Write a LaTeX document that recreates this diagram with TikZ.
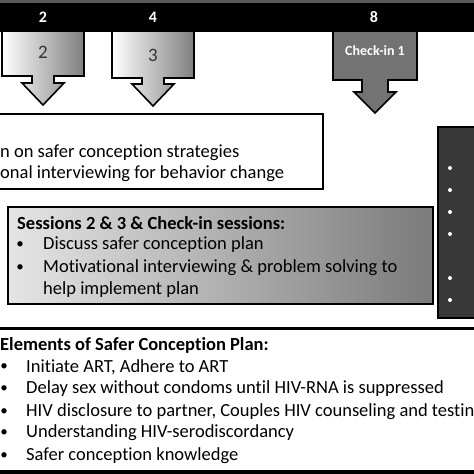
\documentclass[tikz,border=0pt]{standalone}
\usepackage{fontspec}
\setmainfont{Carlito}[Ligatures=NoCommon]
\begin{document}
\begin{tikzpicture}[x=1pt,y=-1pt,
  txt/.style={anchor=west,inner sep=0pt,font=\fontsize{18.5}{20}\selectfont},
  bold/.style={txt,font=\fontsize{18.5}{20}\selectfont\bfseries},
  bul/.style={anchor=center,inner sep=0pt,font=\fontsize{15}{18}\selectfont},
  numlab/.style={inner sep=0pt,text=white,font=\fontsize{16}{18}\selectfont\bfseries},
  arrowshade/.style={draw=black,line width=1.6pt,left color=white,right color=black!50},
  wdot/.style={circle,fill=white,inner sep=0pt,minimum size=4pt}]
\useasboundingbox (0,0) rectangle (474,474);
\clip (0,0) rectangle (474,474);
% session arrows
\path[arrowshade] (2,28) -- (84,28) -- (84,76) -- (54,76) -- (54,83) -- (64,83) -- (43,105) -- (22,83) -- (32,83) -- (32,76) -- (2,76) -- cycle;
\path[arrowshade] (112,28) -- (194,28) -- (194,78) -- (164,78) -- (164,84) -- (174,84) -- (153,106) -- (132,84) -- (142,84) -- (142,78) -- (112,78) -- cycle;
\path[draw=black,line width=1.6pt,fill=black!55] (333,28) -- (417,28) -- (417,80) -- (388,80) -- (388,92) -- (396,92) -- (375,113) -- (354,92) -- (362,92) -- (362,80) -- (333,80) -- cycle;
\node[inner sep=0pt,font=\fontsize{19}{20}\selectfont,text=black!80] (s2) at (43,52) {2};
\node[inner sep=0pt,font=\fontsize{19}{20}\selectfont,text=black!80] (s3) at (153,55) {3};
\node[numlab,font=\fontsize{14}{16}\selectfont\bfseries] (c1) at (375,51) {Check-in 1};
% top band
\fill[black!65] (0,0) rectangle (474,3);
\fill[black] (0,3) rectangle (474,32);
\node[numlab] (w2) at (43,17) {2};
\node[numlab] (w4) at (153,17) {4};
\node[numlab] (w8) at (374,17) {8};
% session 1 box
\draw[line width=1.8pt,fill=white] (-5,114) rectangle (323,189);
\node[txt] (b1a) at (0,153) {n on safer conception strategies};
\node[txt] (b1b) at (0,174) {onal interviewing for behavior change};
% sessions 2&3 box
\draw[line width=1.8pt,left color=black!10,right color=black!52] (8,207) rectangle (433,304);
\node[bold] (h2) at (17,223) {Sessions 2 \& 3 \& Check-in sessions:};
\node[bul] (d1) at (20,245) {•};
\node[txt] (t1) at (43,245) {Discuss safer conception plan};
\node[bul] (d2) at (20,268) {•};
\node[txt] (t2) at (43,268) {Motivational interviewing \& problem solving to};
\node[txt] (t3) at (43,290) {help implement plan};
% right dark box
\draw[line width=1.8pt,fill=black!78] (438,127) rectangle (480,318);
\foreach \yy/\nm in {168/a,190/b,212/c,234/d,278/e,300/f}
  \node[wdot] (r\nm) at (450,\yy) {};
% bottom box
\draw[line width=3pt] (-5,328) -- (480,328);
\fill[black] (-5,470) rectangle (480,476);
\node[bold] (h3) at (0,345) {Elements of Safer Conception Plan:};
\foreach \yy/\tx/\nm in {367/{Initiate ART, Adhere to ART}/a,389/{Delay sex without condoms until HIV-RNA is suppressed}/b,412/{HIV disclosure to partner, Couples HIV counseling and testing}/c,433/{Understanding HIV-serodiscordancy}/d,456/{Safer conception knowledge}/e}{
  \node[bul] (eb\nm) at (4,\yy) {•};
  \node[txt] (et\nm) at (26,\yy) {\tx};
}
\end{tikzpicture}
\end{document}
